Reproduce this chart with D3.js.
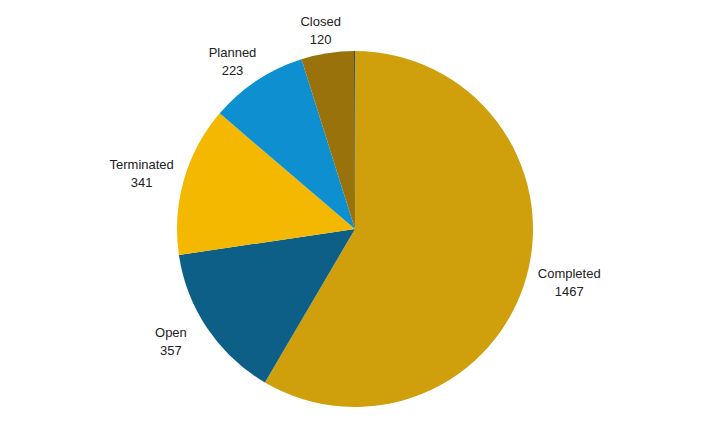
<!DOCTYPE html>
<html><head><meta charset="utf-8">
<script src="https://cdn.jsdelivr.net/npm/d3@7"></script>
<style>body{margin:0;background:#fff}text{font-family:"Liberation Sans",Arial,sans-serif;font-size:13px;fill:#222}</style>
</head><body>
<script>
var labels = ["Completed", "Open", "Terminated", "Planned", "Closed", ""];
var values = [1467, 357, 341, 223, 120, 2];
var colors = ["#CFA00C", "#0E5F88", "#F4B800", "#0E8FCF", "#9A720C", "#0A3E6E"];

var width = 726, height = 423, cx = 355, cy = 229, r = 178;

var svg = d3.select("body").append("svg")
  .attr("width", width).attr("height", height)
  .append("g").attr("transform", "translate(" + cx + "," + cy + ")");

var pie = d3.pie().sort(null).value(function (d) { return d; });
var arcs = pie(values);
var arc = d3.arc().innerRadius(0).outerRadius(r);

// labels sit on an ellipse a little wider than tall
function labelPos(d) {
  var a = (d.startAngle + d.endAngle) / 2;
  return [Math.sin(a) * 222, -Math.cos(a) * 201];
}

svg.selectAll("path").data(arcs).enter().append("path")
  .attr("d", arc)
  .style("fill", function (d, i) { return colors[i]; });

var lab = svg.selectAll("g.lab").data(arcs).enter().append("g")
  .attr("class", "lab")
  .attr("transform", function (d) { return "translate(" + labelPos(d) + ")"; });
lab.filter(function (d, i) { return labels[i] !== ""; }).each(function (d) {
  var g = d3.select(this);
  g.append("text").attr("text-anchor", "middle").attr("y", -4).text(labels[d.index]);
  g.append("text").attr("text-anchor", "middle").attr("y", 14).text(values[d.index]);
});
</script>
</body></html>
